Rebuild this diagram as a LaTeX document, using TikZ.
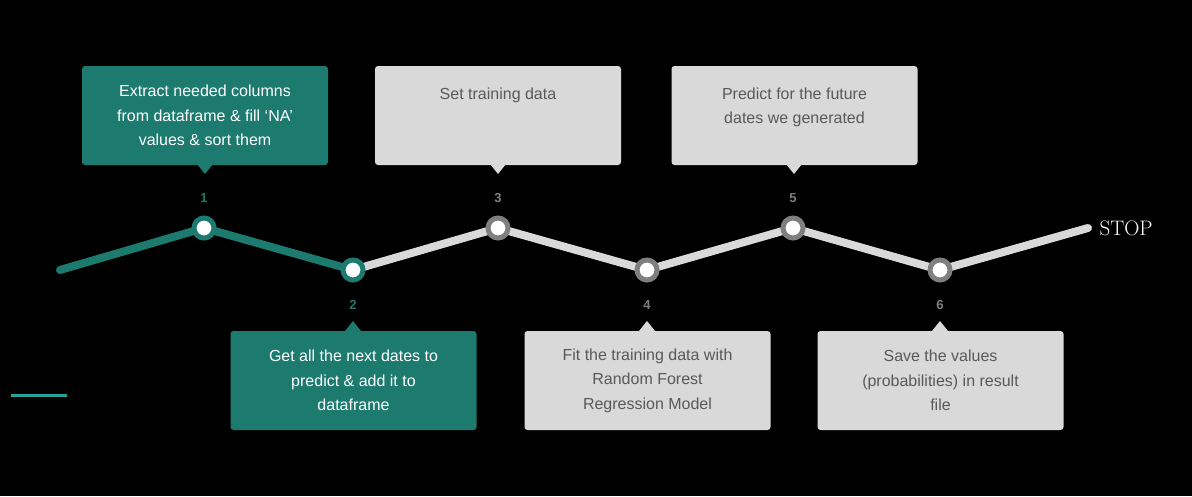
\documentclass[tikz,border=0pt]{standalone}
\usepackage{fontspec}
\setmainfont{Liberation Sans}
\newfontfamily\stopfont{Latin Modern Roman}
\definecolor{teal1}{HTML}{1C7A6E}
\definecolor{boxgray}{HTML}{D9D9D9}
\definecolor{txtgray}{HTML}{595959}
\definecolor{ringgray}{HTML}{7F7F7F}
\definecolor{accent}{HTML}{2AA198}
\begin{document}
\begin{tikzpicture}[x=1pt,y=-1pt,
  tbox/.style={rounded corners=3pt,minimum width=246pt,minimum height=99pt,inner sep=0pt},
  tealbox/.style={tbox,fill=teal1,text=white},
  graybox/.style={tbox,fill=boxgray,text=txtgray},
  btxt/.style={align=center,font=\fontsize{16}{24.5}\selectfont},
  tline/.style={line width=8pt,line cap=round,line join=round},
  ring/.style={circle,minimum size=20pt,inner sep=0pt,fill=white,line width=5pt},
  num/.style={font=\bfseries\fontsize{13}{13}\selectfont}]
\fill[black] (0,0) rectangle (1192,496);
\useasboundingbox (0,0) rectangle (1192,496);
\coordinate (s) at (60,270);
\coordinate (e) at (1088,228);
\draw[tline,boxgray] (353,270) -- (498,228) -- (647,270) -- (793,228) -- (940,270) -- (e);
\draw[tline,teal1] (s) -- (204,228) -- (353,270);
\node[ring,draw=teal1] (p1) at (204,228) {};
\node[ring,draw=teal1] (p2) at (353,270) {};
\node[ring,draw=ringgray] (p3) at (498,228) {};
\node[ring,draw=ringgray] (p4) at (647,270) {};
\node[ring,draw=ringgray] (p5) at (793,228) {};
\node[ring,draw=ringgray] (p6) at (940,270) {};
\node[text=white,font=\stopfont\fontsize{21}{21}\selectfont,anchor=west] (stop) at (1096,228) {STOP};
% numbers
\node[num,text=teal1] (n1) at (204,198) {1};
\node[num,text=teal1] (n2) at (353,305) {2};
\node[num,text=ringgray] (n3) at (498,198) {3};
\node[num,text=ringgray] (n4) at (647,305) {4};
\node[num,text=ringgray] (n5) at (793,198) {5};
\node[num,text=ringgray] (n6) at (940,305) {6};
% top boxes
\node[tealbox] (b1) at (205,115.5) {};
\node[btxt,text=white] at (b1) {Extract needed columns\\from dataframe \& fill ‘NA’\\values \& sort them};
\fill[teal1] (197,164) -- (205,174) -- (213,164) -- cycle;
\node[graybox] (b3) at (498,115.5) {};
\node[btxt,text=txtgray,anchor=north] at (498,84) {Set training data};
\fill[boxgray] (490,164) -- (498,174) -- (506,164) -- cycle;
\node[graybox] (b5) at (794.5,115.5) {};
\node[btxt,text=txtgray,anchor=north] at (794.5,84) {Predict for the future\\dates we generated};
\fill[boxgray] (786,164) -- (794,174) -- (802,164) -- cycle;
% bottom boxes
\node[tealbox] (b2) at (353.5,380.5) {};
\node[btxt,text=white] at (b2) {Get all the next dates to\\predict \& add it to\\dataframe};
\fill[teal1] (345,331) -- (353,321) -- (361,331) -- cycle;
\node[graybox] (b4) at (647.5,380.5) {};
\node[btxt,text=txtgray] at (b4) {Fit the training data with\\Random Forest\\Regression Model};
\fill[boxgray] (639,331) -- (647,321) -- (655,331) -- cycle;
\node[graybox] (b6) at (940.5,380.5) {};
\node[btxt,text=txtgray] at (b6) {Save the values\\(probabilities) in result\\file};
\fill[boxgray] (932,331) -- (940,321) -- (948,331) -- cycle;
\coordinate (a1) at (11,395);
\coordinate (a2) at (67,395);
\draw[accent,line width=3pt] (a1) -- (a2);
\end{tikzpicture}
\end{document}
